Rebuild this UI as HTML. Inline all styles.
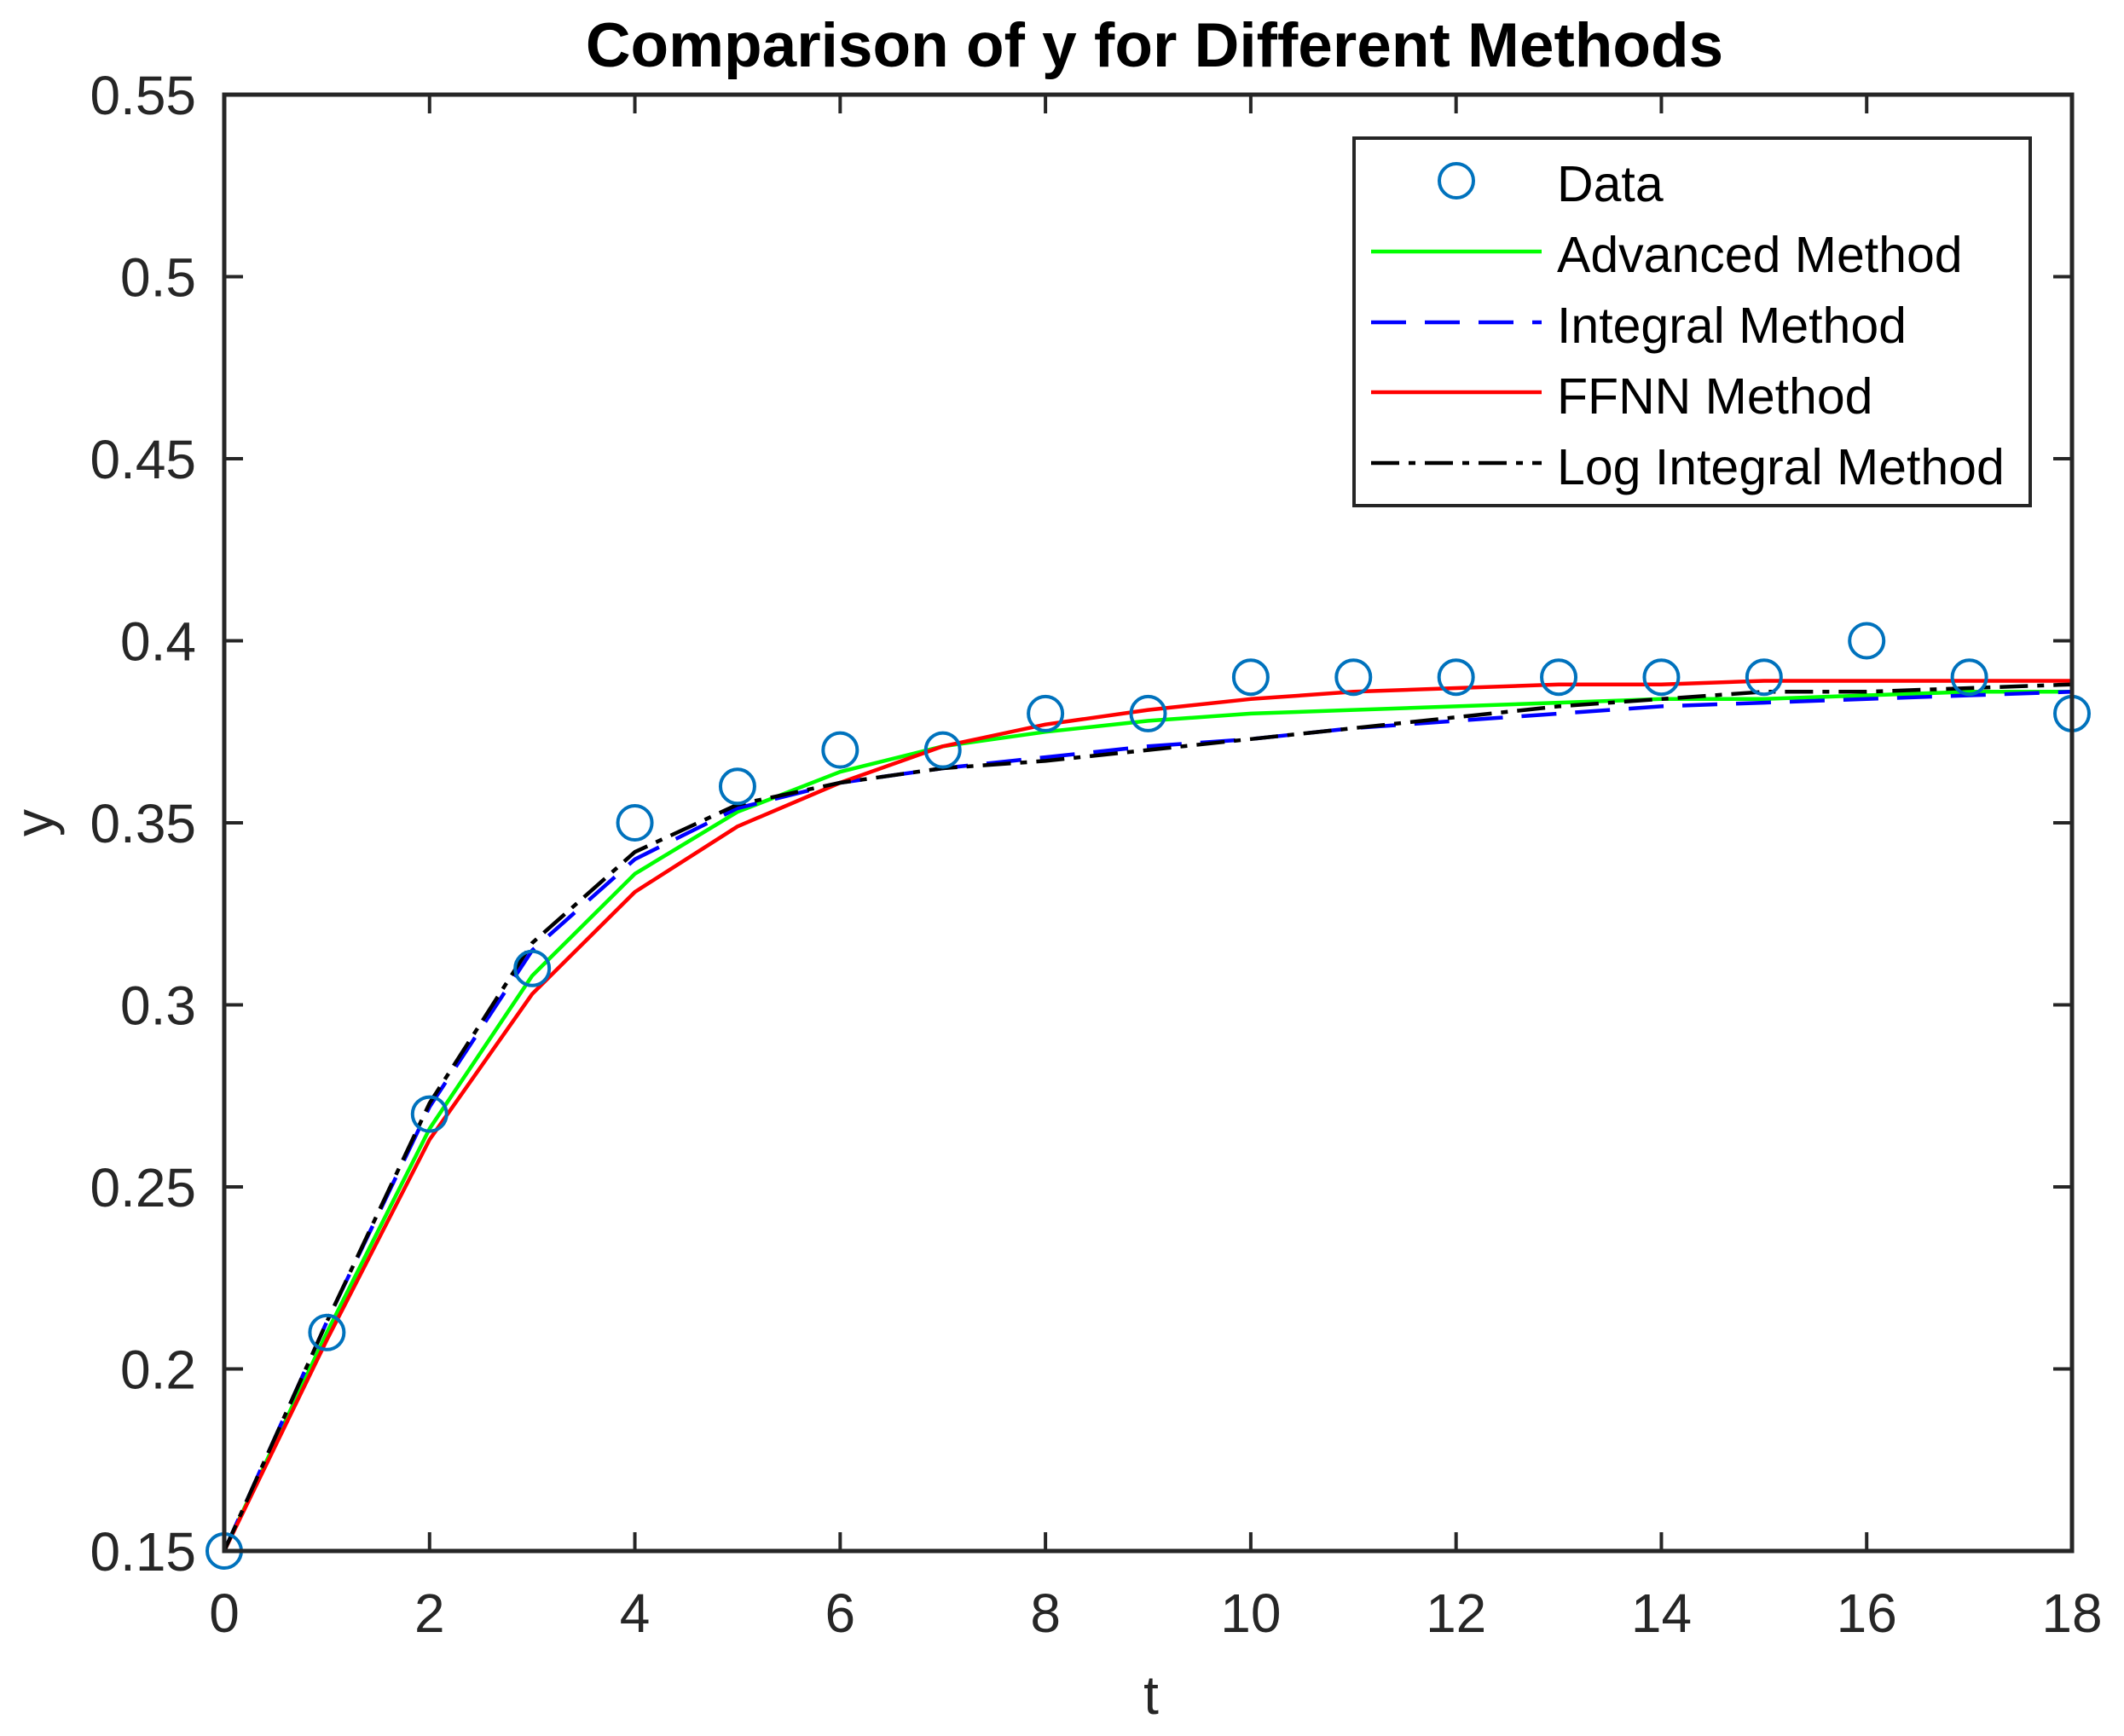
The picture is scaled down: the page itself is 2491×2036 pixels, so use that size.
<!DOCTYPE html>
<html><head><meta charset="utf-8"><style>
html,body{margin:0;padding:0;background:#fff;}
svg{display:block;}
text{font-family:"Liberation Sans",Arial,sans-serif;}
</style></head><body>
<svg id="s" width="2491" height="2036" viewBox="0 0 2491 2036" xmlns="http://www.w3.org/2000/svg">
<rect width="2491" height="2036" fill="#fff"/>
<g id="grid"></g>
<g id="series"></g>
<rect x="263" y="111" width="2167" height="1708" fill="none" stroke="#262626" stroke-width="5"/>
<text x="1354" y="78" font-size="73" font-weight="bold" text-anchor="middle" fill="#000">Comparison of y for Different Methods</text>
<text x="1350" y="2010" font-size="64" text-anchor="middle" fill="#262626">t</text>
<text transform="translate(62,965) rotate(-90)" font-size="64" text-anchor="middle" fill="#262626">y</text>
<g id="legend">
<rect x="1588" y="162" width="793" height="431" fill="#fff" stroke="#262626" stroke-width="4"/>
<circle cx="1708" cy="212" r="20" fill="none" stroke="#0072BD" stroke-width="4"/>
<line x1="1608" y1="295" x2="1808" y2="295" stroke="#00ff00" stroke-width="4.5"/>
<line x1="1608" y1="378" x2="1808" y2="378" stroke="#0000ff" stroke-width="4.5" stroke-dasharray="41,22"/>
<line x1="1608" y1="460" x2="1808" y2="460" stroke="#ff0000" stroke-width="4.5"/>
<line x1="1608" y1="543" x2="1808" y2="543" stroke="#000" stroke-width="4.5" stroke-dasharray="33,11,8,11"/>
<text x="1826" y="236" font-size="59" fill="#000">Data</text>
<text x="1826" y="319" font-size="59" fill="#000">Advanced Method</text>
<text x="1826" y="402" font-size="59" fill="#000">Integral Method</text>
<text x="1826" y="485" font-size="59" fill="#000">FFNN Method</text>
<text x="1826" y="568" font-size="59" fill="#000">Log Integral Method</text>
</g>
</svg>
<script>
(function(){
var NS="http://www.w3.org/2000/svg";
var X0=263,X1=2430,Y0=1819,Y1=111;
function X(t){return X0+(X1-X0)*t/18;}
function Y(v){return Y0-(Y0-Y1)*(v-0.15)/0.4;}
function el(tag,attrs,txt){var e=document.createElementNS(NS,tag);for(var k in attrs)e.setAttribute(k,attrs[k]);if(txt!=null)e.textContent=txt;return e;}
var g=document.getElementById('grid');
for(var t=0;t<=18;t+=2){
 var x=X(t);
 g.appendChild(el('line',{x1:x,y1:Y0,x2:x,y2:Y0-22,stroke:'#262626','stroke-width':4}));
 g.appendChild(el('line',{x1:x,y1:Y1,x2:x,y2:Y1+22,stroke:'#262626','stroke-width':4}));
 g.appendChild(el('text',{x:x,y:1914,'font-size':64,'text-anchor':'middle',fill:'#262626'},String(t)));
}
var ylab=['0.15','0.2','0.25','0.3','0.35','0.4','0.45','0.5','0.55'];
for(var i=0;i<9;i++){
 var v=0.15+0.05*i,y=Y(v);
 g.appendChild(el('line',{x1:X0,y1:y,x2:X0+22,y2:y,stroke:'#262626','stroke-width':4}));
 g.appendChild(el('line',{x1:X1,y1:y,x2:X1-22,y2:y,stroke:'#262626','stroke-width':4}));
 g.appendChild(el('text',{x:230,y:y+23,'font-size':64,'text-anchor':'end',fill:'#262626'},ylab[i]));
}
var data=[0.15,0.21,0.27,0.31,0.35,0.36,0.37,0.37,0.38,0.38,0.39,0.39,0.39,0.39,0.39,0.39,0.40,0.39,0.38];
var green=[0.15,0.21,0.266,0.308,0.336,0.353,0.364,0.371,0.375,0.378,0.380,0.381,0.382,0.383,0.384,0.384,0.385,0.386,0.386];
var red=[0.15,0.208,0.263,0.303,0.331,0.349,0.361,0.371,0.377,0.381,0.384,0.386,0.387,0.388,0.388,0.389,0.389,0.389,0.389];
var blue=[0.15,0.213,0.272,0.315,0.340,0.354,0.361,0.365,0.368,0.371,0.373,0.376,0.378,0.380,0.382,0.383,0.384,0.385,0.386];
var black=[0.15,0.213,0.273,0.317,0.342,0.355,0.361,0.365,0.367,0.370,0.373,0.376,0.379,0.382,0.384,0.386,0.386,0.387,0.388];
var s=document.getElementById('series');
function pts(a){return a.map(function(v,i){return X(i).toFixed(1)+','+Y(v).toFixed(1);}).join(' ');}
s.appendChild(el('polyline',{points:pts(green),fill:'none',stroke:'#00ff00','stroke-width':4.5,'stroke-linejoin':'round'}));
s.appendChild(el('polyline',{points:pts(blue),fill:'none',stroke:'#0000ff','stroke-width':4.5,'stroke-dasharray':'41,22'}));
s.appendChild(el('polyline',{points:pts(red),fill:'none',stroke:'#ff0000','stroke-width':4.5,'stroke-linejoin':'round'}));
s.appendChild(el('polyline',{points:pts(black),fill:'none',stroke:'#000','stroke-width':4.5,'stroke-dasharray':'33,11,8,11'}));
data.forEach(function(v,i){s.appendChild(el('circle',{cx:X(i),cy:Y(v),r:20,fill:'none',stroke:'#0072BD','stroke-width':4}));});
})();
</script>
</body></html>
